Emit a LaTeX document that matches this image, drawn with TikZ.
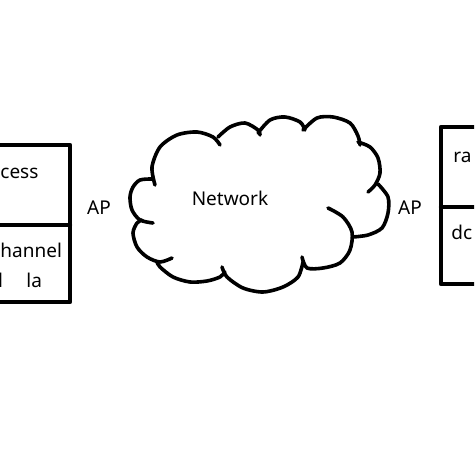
\documentclass[tikz,border=0pt]{standalone}
\usepackage{fontspec}
\setmainfont{Noto Sans}
\usetikzlibrary{positioning}

\begin{document}
\begin{tikzpicture}[line cap=round,line join=round,x=0.5pt,y=-0.5pt,
    label/.style={inner sep=0pt,font=\fontsize{9.5}{11}\selectfont},
    boxline/.style={line width=2.2pt},
    cloudline/.style={line width=1.8pt}]
            \useasboundingbox (0,0) rectangle (474,474);
            \clip (0,0) rectangle (474,474);
            % left box
            \draw [boxline] (-60,145) rectangle (70,302);
            \draw [boxline] (-60,225)-- (70,225);
            \node [label,anchor=west] (lcess) at (0,173) {cess};
            \node [label,anchor=west] (lchan) at (0,250) {hannel};
            \node [label,anchor=west] (lla) at (26,280) {la};
            \node [label,anchor=east] (ll) at (3.5,280) {l};
            % right box
            \draw [boxline] (441,127) rectangle (540,284);
            \draw [boxline] (441,207)-- (540,207);
            \node [label,anchor=west] (rra) at (453,157) {ra};
            \node [label,anchor=west] (rdc) at (451,232) {dc};
            % cloud
            \draw [cloudline] plot[smooth] coordinates {(155,185) (152,167) (160,147) (177,135) (197,132) (213,137) (220,145)};
            \draw [cloudline] plot[smooth] coordinates {(218,137) (230,127) (245,123) (258,130) (260,135)};
            \draw [cloudline] plot[smooth] coordinates {(258,133) (270,120) (285,117) (300,122) (305,130)};
            \draw [cloudline] plot[smooth] coordinates {(303,130) (317,118) (333,117) (350,123) (358,136) (360,145)};
            \draw [cloudline] plot[smooth] coordinates {(358,142) (370,147) (378,158) (380,173) (375,185) (368,192)};
            \draw [cloudline] plot[smooth] coordinates {(378,184) (388,197) (388,213) (382,228) (368,235) (353,237)};
            \draw [cloudline] plot[smooth] coordinates {(328,208) (343,217) (352,232) (350,250) (340,263) (323,268) (307,268) (302,257)};
            \draw [cloudline] plot[smooth] coordinates {(303,262) (298,277) (283,287) (263,292) (243,288) (227,277) (222,267)};
            \draw [cloudline] plot[smooth] coordinates {(225,272) (220,277) (207,281) (190,282) (173,277) (160,267) (157,262)};
            \draw [cloudline] plot[smooth] coordinates {(172,258) (160,262) (147,257) (137,247) (133,233) (137,223) (142,220)};
            \draw [cloudline] plot[smooth] coordinates {(152,179) (140,180) (133,187) (130,197) (132,210) (140,220) (153,223)};
            \node [label] (net) at (230,198) {Network};
            \node [label] (apl) at (99,208) {AP};
            \node [label] (apr) at (410,208) {AP};
\end{tikzpicture}
\end{document}
